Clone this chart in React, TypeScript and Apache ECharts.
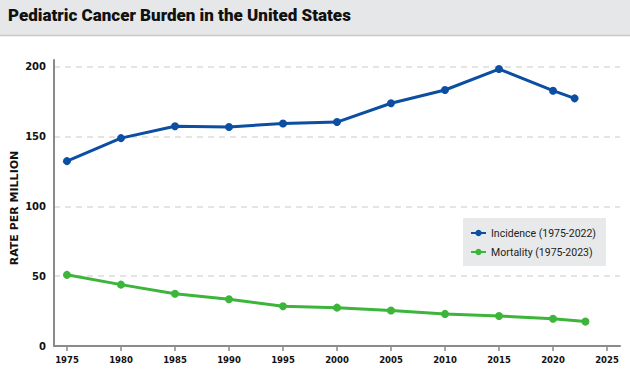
import React, { useEffect, useRef } from "react";
import * as echarts from "echarts";

const chartTitle = "Pediatric Cancer Burden in the United States";
const yAxisTitle = "RATE PER MILLION";
const incidenceName = "Incidence (1975-2022)";
const mortalityName = "Mortality (1975-2023)";

const incidenceYears = [1975, 1980, 1985, 1990, 1995, 2000, 2005, 2010, 2015, 2020, 2022];
const incidenceValues = [132.5, 149, 157.5, 157, 159.5, 160.5, 174, 183.5, 198.5, 183, 177.5];

const mortalityYears = [1975, 1980, 1985, 1990, 1995, 2000, 2005, 2010, 2015, 2020, 2023];
const mortalityValues = [51, 44, 37.5, 33.5, 28.5, 27.5, 25.5, 23, 21.5, 19.5, 17.5];

const xTickValues = [1975, 1980, 1985, 1990, 1995, 2000, 2005, 2010, 2015, 2020, 2025];

const BLUE = "#0b4ea2";
const GREEN = "#3cb53a";
const AXIS = "#8a8a8a";

export default function App() {
  const ref = useRef<HTMLDivElement>(null);

  useEffect(() => {
    if (!ref.current) return;
    const chart = echarts.init(ref.current, undefined, { renderer: "svg" });
    const pairs = (xs: number[], ys: number[]) => xs.map((x, i) => [x, ys[i]]);
    chart.setOption({
      animation: false,
      backgroundColor: "#ffffff",
      title: {
        text: chartTitle,
        left: 8,
        top: 5,
        padding: 0,
        textStyle: {
          fontFamily: "Roboto",
          fontWeight: 900,
          fontSize: 17,
          color: "#111111",
          lineHeight: 19,
        },
      },
      graphic: [
        {
          type: "rect",
          z: -10,
          silent: true,
          shape: { x: 0, y: 0, width: 630, height: 35 },
          style: { fill: "#e6e7e8" },
        },
        {
          type: "line",
          z: -9,
          silent: true,
          shape: { x1: 0, y1: 35.5, x2: 630, y2: 35.5 },
          style: { stroke: "#c8c8c8", lineWidth: 1.5 },
        },
        {
          type: "text",
          x: 14,
          y: 208,
          rotation: Math.PI / 2,
          style: {
            text: yAxisTitle,
            fontFamily: "DejaVu Sans",
            fontWeight: "bold",
            fontSize: 11,
            fill: "#111111",
            align: "center",
            verticalAlign: "middle",
          },
        },
      ],
      legend: {
        orient: "vertical",
        left: 463,
        top: 218,
        backgroundColor: "#e8e9eb",
        padding: [9, 10, 8, 7],
        itemGap: 7,
        itemWidth: 15,
        itemHeight: 8,
        textStyle: {
          fontFamily: "Roboto",
          fontSize: 10.5,
          color: "#222222",
          lineHeight: 12,
        },
        data: [incidenceName, mortalityName],
      },
      grid: { left: 54, right: 10, top: 60, bottom: 31, containLabel: false },
      xAxis: {
        type: "value",
        min: 1973.8,
        max: 2026.2,
        axisLine: { show: true, onZero: false, lineStyle: { color: AXIS, width: 2 } },
        axisTick: {
          show: true,
          customValues: xTickValues,
          length: 5,
          lineStyle: { color: AXIS, width: 1.5 },
        },
        axisLabel: {
          customValues: xTickValues,
          formatter: (v: number) => String(Math.round(v)),
          fontFamily: "DejaVu Sans",
          fontWeight: "bold",
          fontSize: 8.5,
          color: "#111111",
          margin: 9,
        },
        splitLine: { show: false },
      },
      yAxis: {
        type: "value",
        min: 0,
        max: 205,
        interval: 50,
        axisLine: { show: true, lineStyle: { color: AXIS, width: 2 } },
        axisTick: { show: false },
        axisLabel: {
          showMaxLabel: false,
          formatter: (v: number) => String(Math.round(v)),
          fontFamily: "DejaVu Sans",
          fontWeight: "bold",
          fontSize: 10,
          color: "#111111",
          margin: 8,
        },
        splitLine: {
          show: true,
          showMaxLine: false,
          showMinLine: false,
          lineStyle: { color: "#dcdcdc", width: 1.5, type: [6, 5] },
        },
      },
      series: [
        {
          name: incidenceName,
          type: "line",
          data: pairs(incidenceYears, incidenceValues),
          symbol: "circle",
          symbolSize: 8,
          color: BLUE,
          lineStyle: { color: BLUE, width: 3 },
          itemStyle: { color: BLUE },
        },
        {
          name: mortalityName,
          type: "line",
          data: pairs(mortalityYears, mortalityValues),
          symbol: "circle",
          symbolSize: 8,
          color: GREEN,
          lineStyle: { color: GREEN, width: 3 },
          itemStyle: { color: GREEN },
        },
      ],
    });
    return () => chart.dispose();
  }, []);

  return (
    <div
      ref={ref}
      style={{ position: "fixed", left: 0, top: 0, width: 630, height: 377 }}
    />
  );
}
